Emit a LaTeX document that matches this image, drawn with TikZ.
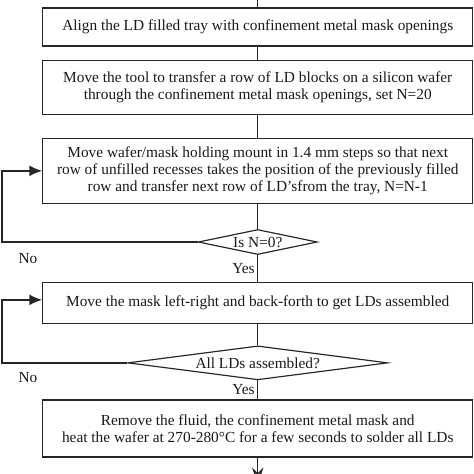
\documentclass[tikz,border=0pt]{standalone}
\usepackage{fontspec}
\setmainfont{Liberation Serif}
\usepackage{tikz}
\usetikzlibrary{shapes.geometric, arrows.meta, positioning, calc}

\begin{document}
\begin{tikzpicture}[
    every node/.style={font=\fontsize{13.1}{14.4}\selectfont, text=black!90},
    stepbox/.style={rectangle, draw=black!85, line width=1pt, minimum width=12.9cm, minimum height=#1, align=center, inner sep=2pt},
    stepbox/.default=1cm,
    decision/.style 2 args={diamond, draw=black!85, line width=1pt, inner sep=0pt, aspect=6, minimum width=#1, minimum height=#2},
    line/.style={draw=black!85, line width=1.2pt},
    arrow/.style={line, -{Latex[length=3.8mm, width=3.2mm]}},
    yesno/.style={inner sep=2pt}
]

\useasboundingbox (0,0) rectangle (14.22,-14.22);

\node[stepbox=1.14cm] (align) at (7.7325,-0.81) {Align the LD filled tray with confinement metal mask openings};
\node[stepbox=1.62cm, below=0.39cm of align] (transfer) {Move the tool to transfer a row of LD blocks on a silicon wafer\\through the confinement metal mask openings, set N=20};
\node[stepbox=1.95cm, below=0.69cm of transfer] (stepmount) {Move wafer/mask holding mount in 1.4 mm steps so that next\\row of unfilled recesses takes the position of the previously filled\\row and transfer next row of LD’sfrom the tray, N=N-1};
\node[decision={3.57cm}{0.75cm}, below=0.75cm of stepmount] (isdone) {Is N=0?};
\node[stepbox=1.23cm, below=0.81cm of isdone] (shake) {Move the mask left-right and back-forth to get LDs assembled};
\node[decision={7.8cm}{1.02cm}, below=0.63cm of shake] (allset) {All LDs assembled?};
\node[stepbox=1.71cm, below=0.57cm of allset] (solder) {Remove the fluid, the confinement metal mask and\\heat the wafer at 270-280°C for a few seconds to solder all LDs};

\coordinate (entry) at (7.7325,0.1);
\coordinate[below=0.8cm of solder] (exit);
\coordinate (rail) at (0.06,0);

\draw[line] (entry) -- (align);
\draw[line] (align) -- (transfer);
\draw[line] (transfer) -- (stepmount);
\draw[line] (stepmount) -- (isdone);
\draw[line] (isdone) -- node[left, yesno] {Yes} (shake);
\draw[line] (shake) -- (allset);
\draw[line] (allset) -- node[left, yesno] {Yes} (solder);
\draw[line, -{Stealth[length=5mm, width=3.4mm, open]}] (solder) -- (exit);

\draw[arrow] (isdone.west) -- (isdone.west -| rail) |- (stepmount.west);
\draw[arrow] (allset.west) -- (allset.west -| rail) |- ([yshift=0.1cm]shake.west);

\node[yesno] (nofirst) at ($(isdone.west -| rail)+(0.78,-0.5)$) {No};
\node[yesno] (nosecond) at ($(allset.west -| rail)+(0.78,-0.45)$) {No};

\end{tikzpicture}
\end{document}
